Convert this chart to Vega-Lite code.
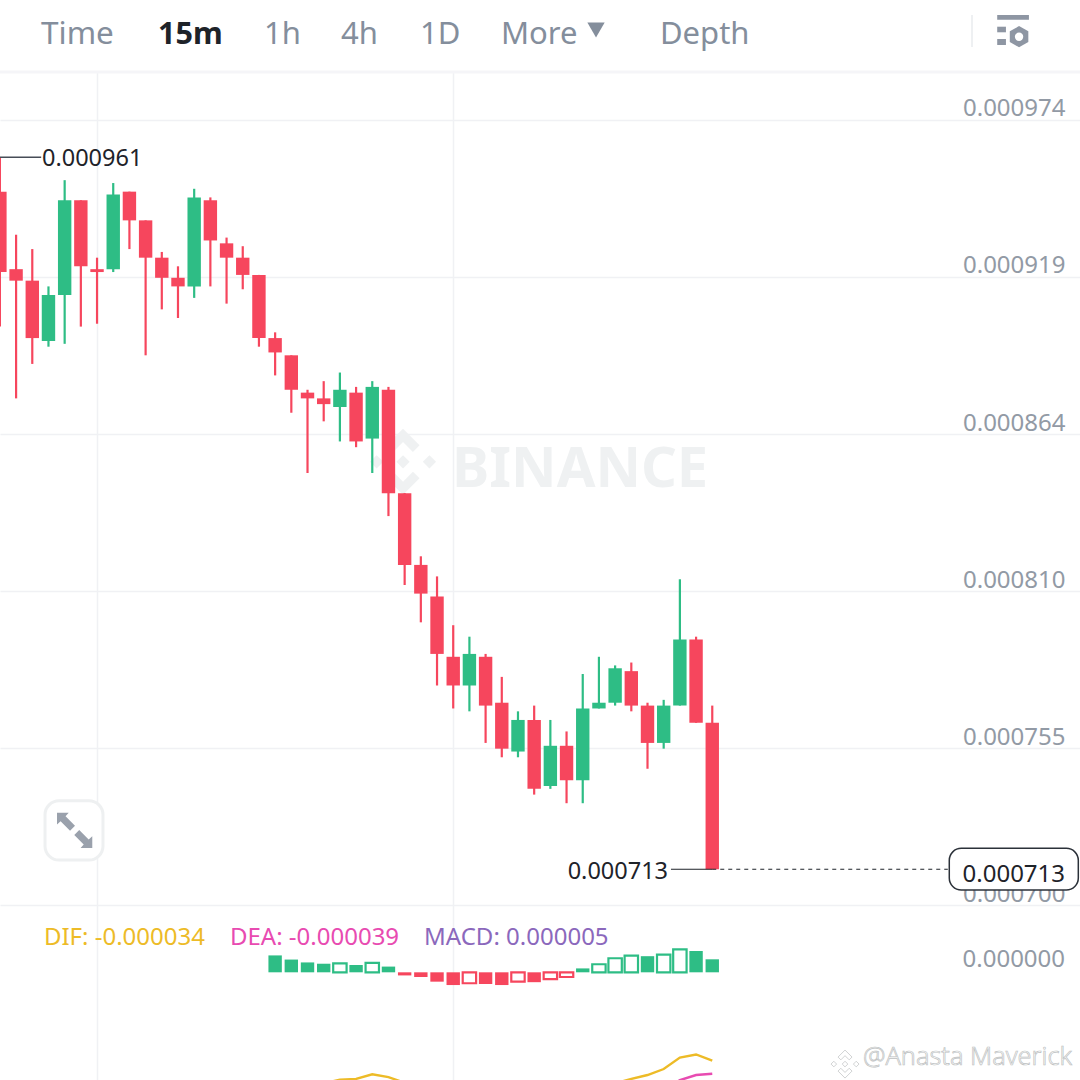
{"$schema":"https://vega.github.io/schema/vega-lite/v6.json","width":1080,"height":1080,"padding":0,"autosize":{"type":"none"},"background":"#ffffff","view":{"stroke":null},
"config":{"text":{"font":"Noto Sans"},"axis":{"title":null}},
"data":{"values":[{"note":"annotation"}]},
"datasets":{
"candles":[
{"candle":0,"open":0.000949,"high":0.000961,"low":0.000902,"close":0.000921,"dir":"down"},
{"candle":1,"open":0.000922,"high":0.000934,"low":0.000877,"close":0.000918,"dir":"down"},
{"candle":2,"open":0.000918,"high":0.000929,"low":0.000889,"close":0.000898,"dir":"down"},
{"candle":3,"open":0.000897,"high":0.000916,"low":0.000895,"close":0.000913,"dir":"up"},
{"candle":4,"open":0.000913,"high":0.000953,"low":0.000896,"close":0.000946,"dir":"up"},
{"candle":5,"open":0.000946,"high":0.000946,"low":0.000902,"close":0.000923,"dir":"down"},
{"candle":6,"open":0.000922,"high":0.000926,"low":0.000903,"close":0.000921,"dir":"down"},
{"candle":7,"open":0.000922,"high":0.000952,"low":0.000921,"close":0.000948,"dir":"up"},
{"candle":8,"open":0.000949,"high":0.000949,"low":0.000929,"close":0.000939,"dir":"down"},
{"candle":9,"open":0.000939,"high":0.000939,"low":0.000892,"close":0.000926,"dir":"down"},
{"candle":10,"open":0.000926,"high":0.000928,"low":0.000908,"close":0.000919,"dir":"down"},
{"candle":11,"open":0.000919,"high":0.000923,"low":0.000905,"close":0.000916,"dir":"down"},
{"candle":12,"open":0.000916,"high":0.00095,"low":0.000912,"close":0.000947,"dir":"up"},
{"candle":13,"open":0.000946,"high":0.000947,"low":0.000916,"close":0.000932,"dir":"down"},
{"candle":14,"open":0.000931,"high":0.000933,"low":0.00091,"close":0.000926,"dir":"down"},
{"candle":15,"open":0.000926,"high":0.00093,"low":0.000915,"close":0.00092,"dir":"down"},
{"candle":16,"open":0.00092,"high":0.00092,"low":0.000895,"close":0.000898,"dir":"down"},
{"candle":17,"open":0.000898,"high":0.0009,"low":0.000885,"close":0.000893,"dir":"down"},
{"candle":18,"open":0.000892,"high":0.000892,"low":0.000872,"close":0.00088,"dir":"down"},
{"candle":19,"open":0.000879,"high":0.00088,"low":0.000851,"close":0.000877,"dir":"down"},
{"candle":20,"open":0.000877,"high":0.000883,"low":0.000869,"close":0.000875,"dir":"down"},
{"candle":21,"open":0.000874,"high":0.000886,"low":0.000862,"close":0.00088,"dir":"up"},
{"candle":22,"open":0.000879,"high":0.000881,"low":0.00086,"close":0.000862,"dir":"down"},
{"candle":23,"open":0.000863,"high":0.000883,"low":0.000851,"close":0.000881,"dir":"up"},
{"candle":24,"open":0.00088,"high":0.000881,"low":0.000836,"close":0.000844,"dir":"down"},
{"candle":25,"open":0.000844,"high":0.000844,"low":0.000812,"close":0.000819,"dir":"down"},
{"candle":26,"open":0.000819,"high":0.000822,"low":0.000799,"close":0.000809,"dir":"down"},
{"candle":27,"open":0.000808,"high":0.000815,"low":0.000777,"close":0.000788,"dir":"down"},
{"candle":28,"open":0.000787,"high":0.000798,"low":0.000769,"close":0.000777,"dir":"down"},
{"candle":29,"open":0.000777,"high":0.000794,"low":0.000768,"close":0.000788,"dir":"up"},
{"candle":30,"open":0.000787,"high":0.000788,"low":0.000757,"close":0.00077,"dir":"down"},
{"candle":31,"open":0.000771,"high":0.00078,"low":0.000752,"close":0.000755,"dir":"down"},
{"candle":32,"open":0.000754,"high":0.000768,"low":0.000752,"close":0.000765,"dir":"up"},
{"candle":33,"open":0.000765,"high":0.00077,"low":0.000739,"close":0.000741,"dir":"down"},
{"candle":34,"open":0.000742,"high":0.000765,"low":0.000741,"close":0.000756,"dir":"up"},
{"candle":35,"open":0.000756,"high":0.000761,"low":0.000736,"close":0.000744,"dir":"down"},
{"candle":36,"open":0.000744,"high":0.000781,"low":0.000736,"close":0.000769,"dir":"up"},
{"candle":37,"open":0.000769,"high":0.000787,"low":0.000769,"close":0.000771,"dir":"up"},
{"candle":38,"open":0.000771,"high":0.000784,"low":0.00077,"close":0.000783,"dir":"up"},
{"candle":39,"open":0.000782,"high":0.000785,"low":0.000768,"close":0.00077,"dir":"down"},
{"candle":40,"open":0.00077,"high":0.000771,"low":0.000748,"close":0.000757,"dir":"down"},
{"candle":41,"open":0.000757,"high":0.000772,"low":0.000755,"close":0.00077,"dir":"up"},
{"candle":42,"open":0.00077,"high":0.000814,"low":0.00077,"close":0.000793,"dir":"up"},
{"candle":43,"open":0.000793,"high":0.000794,"low":0.000764,"close":0.000764,"dir":"down"},
{"candle":44,"open":0.000764,"high":0.00077,"low":0.000713,"close":0.000713,"dir":"down"}
],
"hist":[
{"candle":17,"macd":0.0000065,"dir":"up","hollow":false},
{"candle":18,"macd":0.0000049,"dir":"up","hollow":false},
{"candle":19,"macd":0.0000038,"dir":"up","hollow":false},
{"candle":20,"macd":0.0000033,"dir":"up","hollow":false},
{"candle":21,"macd":0.0000034,"dir":"up","hollow":true},
{"candle":22,"macd":0.0000028,"dir":"up","hollow":false},
{"candle":23,"macd":0.0000036,"dir":"up","hollow":true},
{"candle":24,"macd":0.0000022,"dir":"up","hollow":false},
{"candle":25,"macd":-0.0000012,"dir":"down","hollow":false},
{"candle":26,"macd":-0.0000018,"dir":"down","hollow":false},
{"candle":27,"macd":-0.0000036,"dir":"down","hollow":false},
{"candle":28,"macd":-0.0000049,"dir":"down","hollow":false},
{"candle":29,"macd":-0.0000042,"dir":"down","hollow":true},
{"candle":30,"macd":-0.0000045,"dir":"down","hollow":false},
{"candle":31,"macd":-0.0000049,"dir":"down","hollow":false},
{"candle":32,"macd":-0.0000036,"dir":"down","hollow":true},
{"candle":33,"macd":-0.0000038,"dir":"down","hollow":false},
{"candle":34,"macd":-0.0000026,"dir":"down","hollow":true},
{"candle":35,"macd":-0.0000018,"dir":"down","hollow":true},
{"candle":36,"macd":0.0000015,"dir":"up","hollow":false},
{"candle":37,"macd":0.0000031,"dir":"up","hollow":true},
{"candle":38,"macd":0.0000054,"dir":"up","hollow":true},
{"candle":39,"macd":0.0000064,"dir":"up","hollow":true},
{"candle":40,"macd":0.0000062,"dir":"up","hollow":false},
{"candle":41,"macd":0.0000068,"dir":"up","hollow":true},
{"candle":42,"macd":0.0000088,"dir":"up","hollow":true},
{"candle":43,"macd":0.0000082,"dir":"up","hollow":false},
{"candle":44,"macd":0.000005,"dir":"up","hollow":false}
],
"dif":[
{"candle":19,"v":-0.0000445},{"candle":20,"v":-0.0000427},{"candle":21,"v":-0.0000413},{"candle":22,"v":-0.000041},{"candle":23,"v":-0.0000392},{"candle":24,"v":-0.0000403},{"candle":25,"v":-0.0000425},
{"candle":38,"v":-0.0000427},{"candle":39,"v":-0.000041},{"candle":40,"v":-0.0000395},{"candle":41,"v":-0.0000372},{"candle":42,"v":-0.0000328},{"candle":43,"v":-0.0000316},{"candle":44,"v":-0.000034}
],
"dea":[
{"candle":41,"v":-0.000045},{"candle":42,"v":-0.0000415},{"candle":43,"v":-0.0000395},{"candle":44,"v":-0.000039}
]
},
"layer":[
{"layer":[
{"mark":{"type":"text","font":"Noto Sans","fontWeight":"bold","fontSize":56,"color":"#EFF1F2","align":"left","baseline":"middle"},"encoding":{
 "x":{"datum":27.93,"type":"quantitative","scale":{"domain":[0.00618,66.714],"nice":false,"zero":false,"padding":0},"axis":{"values":[6,28],"grid":true,"gridColor":"#F0F1F4","gridWidth":1.5,"labels":false,"ticks":false,"domain":false,"title":null,"orient":"bottom"}},
 "y":{"datum":0.00085205,"type":"quantitative","scale":{"domain":[0.00063960,0.00101575],"nice":false,"zero":false},"axis":{"orient":"right","values":[0.00097396,0.0009193,0.00086445,0.0008099,0.0007552,0.00070045],"format":".6f","grid":true,"gridColor":"#F0F1F4","gridWidth":1.5,"domain":false,"ticks":false,"tickSize":0,"labelPadding":-15,"labelAlign":"right","labelBaseline":"middle","labelOffset":-11,"labelFontSize":24,"labelFont":"Noto Sans","labelColor":"#929AA5","labelOverlap":false,"labelFlush":false,"labelBound":false,"title":null}},
 "text":{"value":"BINANCE"}}},
{"mark":{"type":"point","filled":true,"color":"#EFF1F2","opacity":1,"size":4356,"shape":"M0,-.2L.2,0L0,.2L-.2,0ZM-.8,-.2L-.6,0L-.8,.2L-1,0ZM.8,-.2L1,0L.8,.2L.6,0ZM0,-1L.5,-.5L.3,-.3L0,-.6L-.3,-.3L-.5,-.5ZM0,1L.5,.5L.3,.3L0,.6L-.3,.3L-.5,.5Z"},"encoding":{"x":{"datum":24.9},"y":{"datum":0.0008549}}},
{"data":{"name":"candles"},"mark":{"type":"rule","strokeWidth":2.2},"encoding":{"x":{"field":"candle","type":"quantitative"},"y":{"field":"low","type":"quantitative"},"y2":{"field":"high"},"color":{"field":"dir","type":"nominal","scale":{"domain":["up","down"],"range":["#2EBD85","#F6465D"]},"legend":null}}},
{"data":{"name":"candles"},"mark":{"type":"bar","size":13.4,"orient":"vertical"},"encoding":{"x":{"field":"candle","type":"quantitative"},"y":{"field":"open","type":"quantitative","stack":null},"y2":{"field":"close"},"color":{"field":"dir","type":"nominal","legend":null}}},
{"mark":{"type":"rule","color":"#474D57","strokeWidth":1.5},"encoding":{"x":{"datum":0.006},"x2":{"datum":2.55},"y":{"datum":0.000961}}},
{"mark":{"type":"text","fontSize":23.5,"color":"#1E2329","align":"left","baseline":"middle"},"encoding":{"x":{"datum":2.6},"y":{"datum":0.0009603},"text":{"value":"0.000961"}}},
{"mark":{"type":"rule","color":"#1E2329","strokeWidth":1},"encoding":{"x":{"datum":41.45},"x2":{"datum":44},"y":{"datum":0.000713}}},
{"mark":{"type":"rule","color":"#1E2329","strokeWidth":1,"strokeDash":[4,4]},"encoding":{"x":{"datum":44},"x2":{"datum":58.55},"y":{"datum":0.000713}}},
{"mark":{"type":"text","fontSize":23.5,"color":"#1E2329","align":"right","baseline":"middle"},"encoding":{"x":{"datum":41.27},"y":{"datum":0.00071202},"text":{"value":"0.000713"}}},
{"mark":{"type":"rect","fill":"#ffffff","stroke":"#2B3139","strokeWidth":1.5,"cornerRadius":12},"encoding":{"x":{"datum":58.64},"x2":{"datum":66.61},"y":{"datum":0.00072028},"y2":{"datum":0.00070575}}},
{"mark":{"type":"text","fontSize":24,"color":"#1E2329","align":"right","baseline":"middle"},"encoding":{"x":{"datum":65.79},"y":{"datum":0.00071115},"text":{"value":"0.000713"}}},
{"mark":{"type":"rect","fill":"#ffffff","stroke":"#EEF0F1","strokeWidth":3,"cornerRadius":14},"encoding":{"x":{"datum":2.786},"x2":{"datum":6.368},"y":{"datum":0.00073686},"y2":{"datum":0.0007162}}},
{"mark":{"type":"point","filled":true,"color":"#9AA1AC","opacity":1,"size":324,"shape":"M-1,-1L.3,-1L-.05,-.6L1,.45L.45,1L-.6,-.05L-1,.3Z"},"encoding":{"x":{"datum":4.083},"y":{"datum":0.00072954}}},
{"mark":{"type":"point","filled":true,"color":"#9AA1AC","opacity":1,"size":324,"shape":"M1,1L-.3,1L.05,.6L-1,-.45L-.45,-1L.6,.05L1,-.3Z"},"encoding":{"x":{"datum":5.15},"y":{"datum":0.00072352}}},
{"mark":{"type":"rect","fill":"#ffffff"},"encoding":{"x":{"datum":0.00618},"x2":{"datum":66.714},"y":{"datum":0.00101575},"y2":{"datum":0.00099067}}},
{"mark":{"type":"rule","color":"#F5F5F8","strokeWidth":3},"encoding":{"x":{"datum":0.00618},"x2":{"datum":66.714},"y":{"datum":0.00099067}}},
{"mark":{"type":"text","fontSize":31.5,"color":"#848E9C","align":"left","baseline":"middle"},"encoding":{"x":{"datum":2.54},"y":{"datum":0.00100356},"text":{"value":"Time"}}},
{"mark":{"type":"text","fontSize":30.5,"fontWeight":"bold","color":"#1E2329","align":"left","baseline":"middle"},"encoding":{"x":{"datum":9.77},"y":{"datum":0.00100356},"text":{"value":"15m"}}},
{"mark":{"type":"text","fontSize":31,"color":"#848E9C","align":"left","baseline":"middle"},"encoding":{"x":{"datum":16.31},"y":{"datum":0.00100356},"text":{"value":"1h"}}},
{"mark":{"type":"text","fontSize":31,"color":"#848E9C","align":"left","baseline":"middle"},"encoding":{"x":{"datum":21.07},"y":{"datum":0.00100356},"text":{"value":"4h"}}},
{"mark":{"type":"text","fontSize":31,"color":"#848E9C","align":"left","baseline":"middle"},"encoding":{"x":{"datum":25.95},"y":{"datum":0.00100356},"text":{"value":"1D"}}},
{"mark":{"type":"text","fontSize":31,"color":"#848E9C","align":"left","baseline":"middle"},"encoding":{"x":{"datum":30.95},"y":{"datum":0.00100356},"text":{"value":"More"}}},
{"mark":{"type":"point","filled":true,"shape":"triangle-down","size":300,"color":"#848E9C","opacity":1},"encoding":{"x":{"datum":36.82},"y":{"datum":0.0010053}}},
{"mark":{"type":"text","fontSize":31,"color":"#848E9C","align":"left","baseline":"middle"},"encoding":{"x":{"datum":40.77},"y":{"datum":0.00100356},"text":{"value":"Depth"}}},
{"mark":{"type":"rule","color":"#EEF0F2","strokeWidth":2},"encoding":{"x":{"datum":60.04},"y":{"datum":0.00101053},"y2":{"datum":0.00099938}}},
{"mark":{"type":"rect","fill":"#8E96A3"},"encoding":{"x":{"datum":61.6},"x2":{"datum":63.56},"y":{"datum":0.00101053},"y2":{"datum":0.00100889}}},
{"mark":{"type":"rect","fill":"#8E96A3"},"encoding":{"x":{"datum":61.6},"x2":{"datum":62.14},"y":{"datum":0.00100645},"y2":{"datum":0.0010045}}},
{"mark":{"type":"rect","fill":"#8E96A3"},"encoding":{"x":{"datum":61.6},"x2":{"datum":62.14},"y":{"datum":0.00100217},"y2":{"datum":0.00100008}}},
{"mark":{"type":"point","filled":true,"color":"#8E96A3","opacity":1,"size":454,"shape":"M0,-1L.87,-.5L.87,.5L0,1L-.87,.5L-.87,-.5Z"},"encoding":{"x":{"datum":62.95},"y":{"datum":0.00100297}}},
{"mark":{"type":"point","filled":true,"shape":"circle","color":"#ffffff","opacity":1,"size":70},"encoding":{"x":{"datum":62.95},"y":{"datum":0.00100297}}},
{"mark":{"type":"point","filled":true,"fill":"#ffffff","stroke":"#C4C6C8","strokeWidth":0.8,"opacity":1,"size":784,"shape":"M0,-.2L.2,0L0,.2L-.2,0ZM-.8,-.2L-.6,0L-.8,.2L-1,0ZM.8,-.2L1,0L.8,.2L.6,0ZM0,-1L.5,-.5L.3,-.3L0,-.6L-.3,-.3L-.5,-.5ZM0,1L.5,.5L.3,.3L0,.6L-.3,.3L-.5,.5Z"},"encoding":{"x":{"datum":52.2},"y":{"datum":0.00064515}}},
{"mark":{"type":"text","fontSize":25.3,"fontWeight":300,"fill":"#ffffff","stroke":"#BDBFC1","strokeWidth":0.7,"align":"left","baseline":"middle"},"encoding":{"x":{"datum":53.31},"y":{"datum":0.00064759},"text":{"value":"@Anasta Maverick"}}},
{"mark":{"type":"text","fontSize":24,"color":"#EDBB27","align":"left","baseline":"middle"},"encoding":{"x":{"datum":2.72},"y":{"datum":0.00068903},"text":{"value":"DIF: -0.000034"}}},
{"mark":{"type":"text","fontSize":24,"color":"#E84BB1","align":"left","baseline":"middle"},"encoding":{"x":{"datum":14.21},"y":{"datum":0.00068903},"text":{"value":"DEA: -0.000039"}}},
{"mark":{"type":"text","fontSize":24,"color":"#8B68BC","align":"left","baseline":"middle"},"encoding":{"x":{"datum":26.2},"y":{"datum":0.00068903},"text":{"value":"MACD: 0.000005"}}}
]},
{"layer":[
{"data":{"name":"hist"},"transform":[{"filter":"!datum.hollow"}],"mark":{"type":"bar","size":13.4,"orient":"vertical"},"encoding":{"x":{"field":"candle","type":"quantitative"},"y":{"field":"macd","type":"quantitative","stack":null,"scale":{"domain":[-0.00004142,0.00037396],"nice":false,"zero":false},"axis":null},"y2":{"datum":0},"color":{"field":"dir","type":"nominal","legend":null}}},
{"data":{"name":"hist"},"transform":[{"filter":"datum.hollow"}],"mark":{"type":"bar","size":13.4,"orient":"vertical","fill":"#ffffff","strokeWidth":2.2},"encoding":{"x":{"field":"candle","type":"quantitative"},"y":{"field":"macd","type":"quantitative","stack":null},"y2":{"datum":0},"stroke":{"field":"dir","type":"nominal","scale":{"domain":["up","down"],"range":["#2EBD85","#F6465D"]},"legend":null}}},
{"data":{"name":"dif"},"mark":{"type":"line","color":"#EDBB27","strokeWidth":2.4,"clip":true},"encoding":{"x":{"field":"candle","type":"quantitative"},"y":{"field":"v","type":"quantitative"}}},
{"data":{"name":"dea"},"mark":{"type":"line","color":"#E84BB1","strokeWidth":2.4,"clip":true},"encoding":{"x":{"field":"candle","type":"quantitative"},"y":{"field":"v","type":"quantitative"}}},
{"mark":{"type":"text","fontSize":24,"color":"#929AA5","align":"right","baseline":"middle","dy":-12},"encoding":{"x":{"datum":65.79},"y":{"datum":0},"text":{"value":"0.000000"}}}
]}
],
"resolve":{"scale":{"y":"independent"},"axis":{"y":"independent"}}}
